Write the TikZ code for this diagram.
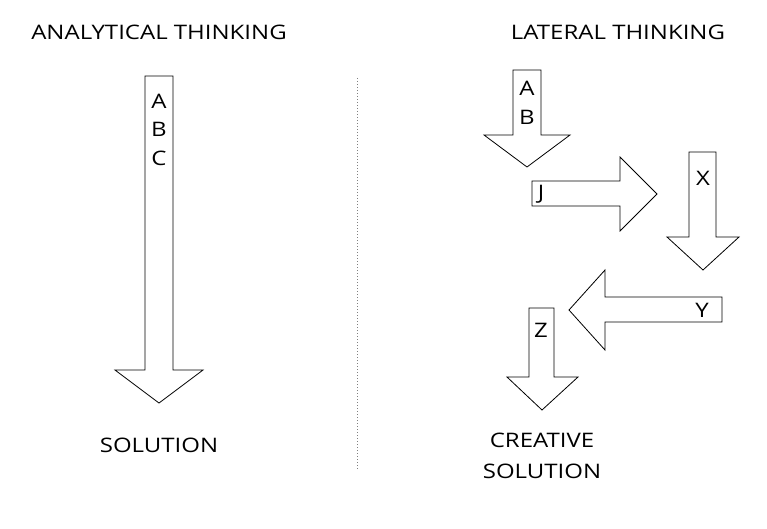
\documentclass[tikz,border=0pt]{standalone}
\usepackage{fontspec}
\setmainfont{Open Sans}[FakeStretch=1.2]
\begin{document}
\begin{tikzpicture}[x=1pt,y=-1pt,
  arr/.style={draw=black,fill=white,line width=0.8pt},
  lbl/.style={font=\fontsize{20}{23}\selectfont,inner sep=0pt}]
\useasboundingbox (0,0) rectangle (767,529);
\node[lbl] (t1) at (159,32) {ANALYTICAL THINKING};
\node[lbl] (t2) at (618,32) {LATERAL THINKING};
\draw[arr] (145,76)--(173,76)--(173,370)--(203,370)--(159,403)--(115,370)--(145,370)--cycle;
\node[lbl] (a1) at (159,101) {A};
\node[lbl] (b1) at (159,129) {B};
\node[lbl] (c1) at (159,158) {C};
\node[lbl] (s1) at (159,445) {SOLUTION};
\draw[gray,dotted,line width=1pt] (357,78)--(357,470);
% AB
\draw[arr] (513,70)--(541,70)--(541,135)--(570,135)--(527,167)--(484,135)--(513,135)--cycle;
\node[lbl] (a2) at (527,88) {A};
\node[lbl] (b2) at (527,117) {B};
% J
\draw[arr] (532,181)--(620,181)--(620,157)--(657,194)--(620,231)--(620,206)--(532,206)--cycle;
\node[lbl] (j) at (541,194) {J};
% X
\draw[arr] (689,152)--(716,152)--(716,237)--(739,237)--(703,270)--(667,237)--(689,237)--cycle;
\node[lbl] (x) at (703,178) {X};
% Y
\draw[arr] (722,297)--(605,297)--(605,270)--(569,310)--(605,350)--(605,322)--(722,322)--cycle;
\node[lbl] (y) at (702,310) {Y};
% Z
\draw[arr] (529,308)--(554,308)--(554,377)--(578,377)--(542,410)--(507,377)--(529,377)--cycle;
\node[lbl] (z) at (541,330) {Z};
\node[lbl] (cr) at (542,440) {CREATIVE};
\node[lbl] (s2) at (542,471) {SOLUTION};
\end{tikzpicture}
\end{document}
